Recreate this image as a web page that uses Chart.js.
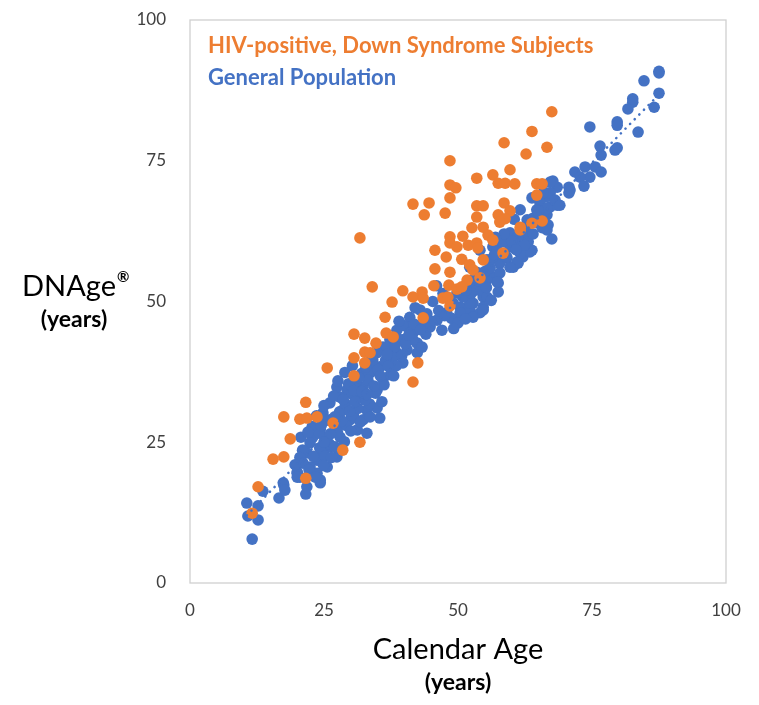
<!DOCTYPE html>
<html>
<head>
<meta charset="utf-8">
<script src="https://cdn.jsdelivr.net/npm/chart.js@4"></script>
<style>
  html, body { margin: 0; padding: 0; background: #fff; }
  #wrap { width: 759px; height: 705px; }
</style>
</head>
<body>
<div id="wrap"><canvas id="c" width="759" height="705"></canvas></div>
<script>
// axis ticks
const xTicks = [0, 25, 50, 75, 100];
const yTicks = [0, 25, 50, 75, 100];

// HIV-positive, Down Syndrome subjects: [calendar age, DNAge]
const hivDown = [
  [67.5,83.7],[63.8,80.2],[58.6,78.2],[66.6,77.4],[62.7,76.2],[48.5,75.0],[59.7,73.4],[56.5,72.5],
  [53.5,71.9],[57.5,71.0],[58.8,71.0],[60.6,70.9],[48.5,70.7],[49.6,70.2],[64.7,70.9],[65.7,70.9],
  [48.5,68.4],[64.7,68.9],[41.6,67.3],[44.6,67.5],[53.5,67.0],[54.7,67.0],[58.6,67.5],[43.7,65.4],
  [47.6,65.7],[59.7,66.1],[53.5,65.0],[57.5,65.4],[58.8,64.7],[57.8,64.1],[65.7,64.3],[63.8,63.9],
  [52.6,63.1],[54.7,63.2],[61.6,63.2],[61.6,62.7],[31.7,61.3],[48.5,61.5],[50.9,61.6],[55.6,61.8],
  [56.5,60.9],[48.5,60.4],[49.8,59.7],[51.9,60.0],[53.5,60.4],[53.7,59.5],[45.7,59.1],[58.4,58.6],
  [47.8,57.9],[50.7,57.5],[54.7,57.4],[45.7,55.8],[48.5,55.2],[52.2,56.5],[52.8,55.6],[51.7,53.8],
  [54.1,54.2],[45.5,52.8],[48.3,52.9],[49.8,52.2],[50.7,52.6],[34.0,52.6],[39.7,51.9],[43.3,51.7],
  [41.6,50.8],[43.5,50.6],[47.2,50.6],[48.1,50.8],[48.5,49.2],[37.7,49.9],[43.5,47.1],[36.4,47.2],
  [30.6,44.2],[36.6,44.4],[32.6,43.5],[37.9,43.7],[34.7,42.6],[32.6,41.0],[33.6,40.9],[30.6,40.0],
  [32.6,39.1],[42.5,39.1],[25.6,38.2],[30.6,36.8],[41.6,35.7],[21.6,32.1],[17.5,29.5],[20.5,29.1],
  [21.8,29.3],[23.7,29.5],[26.7,28.4],[18.7,25.6],[31.7,25.0],[28.5,23.6],[15.5,22.0],[17.5,22.4],
  [21.6,18.6],[12.7,17.1],[11.6,12.4]
];

// General population: [calendar age, DNAge]
const general = [
  [87.5,90.9],[87.5,90.6],[84.7,89.2],[87.5,87.0],[82.6,86.0],[82.6,85.4],[86.6,84.5],[81.7,84.2],
  [74.6,81.0],[79.7,81.9],[79.7,81.3],[83.6,80.1],[76.5,77.6],[76.7,76.0],[79.7,77.3],[79.3,76.9],
  [73.7,73.9],[71.8,73.0],[75.6,73.9],[76.7,73.0],[74.6,72.1],[72.8,72.1],[73.5,70.5],[70.7,70.3],
  [70.7,69.3],[67.7,71.4],[68.5,70.3],[66.4,69.3],[66.4,68.6],[68.5,67.1],[67.2,66.8],[66.6,65.4],
  [66.2,63.6],[67.5,61.1],[70.9,69.8],[67.2,71.2],[67.2,69.3],[65.9,69.3],[63.8,68.4],[65.3,67.5],
  [68.1,68.0],[69.0,67.1],[66.6,66.6],[61.6,66.3],[62.9,64.5],[64.7,66.3],[64.0,64.8],[65.9,65.4],
  [66.8,63.6],[65.7,63.1],[66.6,62.7],[59.7,62.2],[61.0,61.3],[62.1,61.8],[63.1,60.6],[63.8,59.1],
  [61.2,59.7],[59.7,59.7],[56.5,59.7],[57.5,57.9],[57.8,56.8],[59.1,57.7],[61.2,56.8],[60.3,56.1],
  [62.1,57.9],[54.1,59.1],[55.4,57.4],[55.6,55.6],[56.5,54.4],[57.5,53.3],[57.5,51.7],[52.2,56.1],
  [53.5,55.2],[54.1,52.6],[53.2,52.0],[54.7,50.8],[54.7,49.0],[52.8,49.7],[51.7,50.8],[52.2,48.5],
  [50.4,49.0],[50.9,47.2],[54.1,48.0],[63.4,58.8],[61.6,58.6],[61.0,57.0],[59.7,56.1],[59.1,57.9],
  [57.3,59.1],[56.0,57.4],[57.8,55.1],[57.3,53.5],[55.4,53.8],[54.1,52.0],[52.8,52.6],[55.4,50.8],
  [54.7,48.5],[52.8,47.2],[52.2,49.7],[50.9,50.8],[49.8,51.5],[49.1,49.7],[50.4,48.0],[47.9,48.0],
  [46.1,46.7],[47.0,44.9],[44.8,45.5],[43.5,46.2],[42.9,48.5],[41.0,47.2],[40.5,45.5],[38.6,44.9],
  [37.3,43.2],[39.7,43.2],[41.6,44.4],[42.4,42.6],[40.5,41.4],[38.6,40.9],[37.3,41.4],[36.0,41.9],
  [34.9,40.9],[34.1,39.6],[39.7,45.8],[41.0,44.4],[39.2,43.2],[36.8,41.9],[37.9,40.1],[35.4,38.4],
  [34.0,39.1],[39.7,39.1],[42.4,40.9],[43.3,41.9],[41.6,43.2],[33.6,37.3],[36.0,36.1],[34.9,34.3],
  [32.3,34.8],[31.2,33.0],[29.3,34.3],[28.0,33.0],[27.4,34.8],[34.9,31.1],[35.4,29.3],[33.0,30.7],
  [32.3,29.0],[33.0,26.6],[31.2,27.2],[29.9,29.0],[28.5,30.7],[26.1,32.0],[24.8,30.2],[26.1,29.0],
  [24.3,27.2],[22.9,25.9],[25.6,25.9],[27.4,27.7],[28.0,25.9],[26.1,24.2],[24.8,23.1],[23.7,21.8],
  [22.4,24.9],[21.8,23.1],[22.4,20.6],[21.1,21.3],[20.0,19.5],[23.7,19.5],[25.6,20.6],[27.4,22.4],
  [24.3,17.8],[17.4,17.8],[20.5,18.8],[21.8,17.1],[11.6,7.8],[10.6,14.2],[12.7,13.7],[10.8,11.9],
  [12.7,11.2],[13.6,16.3],[16.6,15.1],[17.5,17.4],[17.7,16.5],[21.6,15.8],[20.0,19.7],[20.0,18.8],
  [24.3,18.3],[20.7,25.9],
  [25.0,31.5],[26.8,33.2],[27.9,30.4],[29.0,31.8],[30.2,33.6],[31.0,35.8],[32.0,37.2],[33.2,36.0],
  [30.5,29.8],[29.1,28.0],[27.5,26.8],[26.0,24.7],[24.2,24.0],[23.0,22.5],[25.2,22.6],[27.0,24.2],
  [28.8,25.1],[30.0,27.0],[31.8,28.6],[33.5,31.8],[34.6,33.7],[36.2,35.2],[37.4,37.0],[38.5,38.6],
  [39.5,40.4],[35.1,37.9],[33.9,40.3],[36.5,39.6],[31.3,31.0],[28.3,28.8],[26.5,28.7],[24.1,26.6],
  [22.8,27.8],[23.6,29.7],[25.4,28.9],[29.6,35.4],[27.6,35.9],[28.9,37.4],[30.3,38.6],[32.8,38.4],
  [34.3,35.0],[35.8,32.2],[33.6,29.5],[32.6,32.5],[30.6,34.2],[21.0,23.6],[22.2,20.1],[23.4,18.8],
  [24.9,20.9],[26.4,22.3],[22.0,26.8],[20.5,22.3],[19.6,21.0],[38.2,42.0],[40.2,42.5],[41.8,46.0],
  [39.0,46.5],[42.0,48.9],[44.2,47.8],[45.3,50.0],[46.4,48.4],[44.0,44.2],
  [46.0,52.8],[47.2,51.4],[48.8,47.0],[50.0,46.2],[51.4,46.9],[49.2,45.2],[52.5,51.5],[53.9,53.6],
  [55.3,52.5],[56.2,50.2],[55.0,55.3],[56.8,58.3],[58.3,60.6],[60.0,60.8],[62.4,60.0],[63.0,62.2],
  [64.5,64.0],[60.5,64.6],[58.6,62.0],[57.0,61.4],
  [27.0,29.5],[28.6,32.6],[30.8,32.2],[32.1,34.0],[29.8,30.5],[26.2,26.5],[25.0,25.0],[24.5,28.0],
  [31.5,36.5],[35.5,36.8],[37.0,38.5],[38.0,36.8],[33.0,33.5],[36.8,40.6],[40.8,44.0],[43.0,45.0],
  [45.0,46.5],[47.5,47.5],[51.5,52.0],[53.0,54.0],[56.0,56.0],[58.5,58.5],[60.8,59.2],[62.5,63.0],
  [64.0,62.0],[65.0,66.0]
];

const ORANGE = '#ED7D31';
const BLUE = '#4472C4';

function toPoints(arr) {
  return arr.map(p => ({ x: p[0], y: p[1] }));
}

// linear trend of the general population
function trendOf(arr) {
  const n = arr.length;
  let sx = 0, sy = 0, sxx = 0, sxy = 0;
  arr.forEach(p => { sx += p[0]; sy += p[1]; sxx += p[0]*p[0]; sxy += p[0]*p[1]; });
  const m = (n*sxy - sx*sy) / (n*sxx - sx*sx);
  const b = (sy - m*sx) / n;
  const xs = arr.map(p => p[0]);
  const x0 = Math.min(...xs), x1 = Math.max(...xs);
  return [{ x: x0, y: m*x0 + b }, { x: x1, y: m*x1 + b }];
}

const decor = {
  id: 'decor',
  beforeDatasetsDraw(chart) {
    const { ctx, chartArea: a } = chart;
    ctx.save();
    ctx.strokeStyle = '#d0d0d0';
    ctx.lineWidth = 1.3;
    ctx.strokeRect(a.left, a.top, a.right - a.left, a.bottom - a.top);
    ctx.restore();
  },
  afterDraw(chart) {
    const { ctx, chartArea: a } = chart;
    ctx.save();
    ctx.textBaseline = 'middle';
    // legend text
    ctx.textAlign = 'left';
    ctx.font = 'bold 22px Lato';
    ctx.fillStyle = ORANGE;
    ctx.fillText('HIV-positive, Down Syndrome Subjects', a.left + 18, 46);
    ctx.fillStyle = BLUE;
    ctx.fillText('General Population', a.left + 18, 78);
    // y title
    ctx.fillStyle = '#000';
    ctx.font = '29px Lato';
    ctx.fillText('DNAge', 22, 287);
    const w = ctx.measureText('DNAge').width;
    ctx.font = 'bold 15px Lato';
    ctx.fillText('®', 22 + w + 1, 277);
    ctx.textAlign = 'center';
    ctx.font = 'bold 23px Lato';
    ctx.fillText('(years)', 74, 320);
    // x title
    ctx.font = '29px Lato';
    ctx.fillText('Calendar Age', (a.left + a.right) / 2, 650);
    ctx.font = 'bold 23px Lato';
    ctx.fillText('(years)', (a.left + a.right) / 2, 683);
    ctx.restore();
  }
};

new Chart(document.getElementById('c'), {
  type: 'scatter',
  data: {
    datasets: [
      {
        label: 'Linear (General Population)',
        type: 'line',
        data: trendOf(general),
        borderColor: BLUE,
        borderWidth: 2.6,
        borderDash: [0.1, 6.5],
        borderCapStyle: 'round',
        pointRadius: 0,
        fill: false,
        order: 0
      },
      {
        label: 'HIV-positive, Down Syndrome Subjects',
        data: toPoints(hivDown),
        backgroundColor: ORANGE,
        borderColor: ORANGE,
        borderWidth: 0,
        pointRadius: 5.8,
        order: 1
      },
      {
        label: 'General Population',
        data: toPoints(general),
        backgroundColor: BLUE,
        borderColor: BLUE,
        borderWidth: 0,
        pointRadius: 5.8,
        order: 2
      }
    ]
  },
  options: {
    responsive: false,
    animation: false,
    clip: false,
    layout: { padding: { top: 20, right: 33, left: 0, bottom: 0 } },
    plugins: {
      legend: { display: false },
      tooltip: { enabled: false }
    },
    scales: {
      x: {
        type: 'linear',
        min: 0, max: 100,
        afterBuildTicks: s => { s.ticks = xTicks.map(v => ({ value: v })); },
        afterFit: s => { s.height = 122; s.paddingLeft = 0; s.paddingRight = 0; },
        grid: { display: false },
        border: { display: false },
        ticks: { color: '#404040', font: { family: 'Lato', size: 17 }, padding: 9 }
      },
      y: {
        type: 'linear',
        min: 0, max: 100,
        afterBuildTicks: s => { s.ticks = yTicks.map(v => ({ value: v })); },
        afterFit: s => { s.width = 190; s.paddingTop = 0; s.paddingBottom = 0; },
        grid: { display: false },
        border: { display: false },
        ticks: { color: '#404040', font: { family: 'Lato', size: 17 }, padding: 16 }
      }
    }
  },
  plugins: [decor]
});
</script>
</body>
</html>
